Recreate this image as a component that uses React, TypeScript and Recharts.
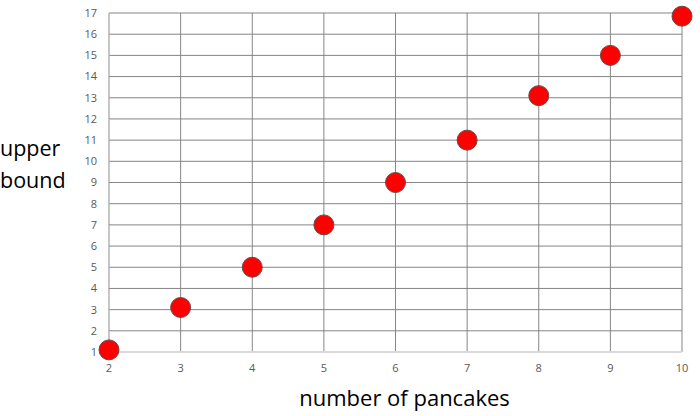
import React from "react";
import { ScatterChart, Scatter, XAxis, YAxis, CartesianGrid, Label } from "recharts";

const pancakes = [2, 3, 4, 5, 6, 7, 8, 9, 10];
const upperBound = [1.1, 3.1, 5, 7, 9, 11, 13.1, 15, 16.85];
const xTicks = [2, 3, 4, 5, 6, 7, 8, 9, 10];
const yTicks = [1, 2, 3, 4, 5, 6, 7, 8, 9, 10, 11, 12, 13, 14, 15, 16, 17];

const points = pancakes.map((n, i) => ({ n, bound: upperBound[i] }));

const font = "'Open Sans', sans-serif";
const tickStyle = { fill: "#595959", fontSize: 11, fontFamily: font };

// red dot with a thin dark rim
const Dot = (props: any) => (
  <circle cx={props.cx} cy={props.cy} r={10} fill="#ff0000" stroke="#6b4a4a" strokeWidth={1} />
);

const YLabel = (props: any) => {
  const { viewBox } = props;
  const cy = viewBox.y + viewBox.height / 2;
  return (
    <text fontFamily={font} fontSize={21.5} fill="#000">
      <tspan x={0} y={cy - 27}>upper</tspan>
      <tspan x={0} y={cy + 5}>bound</tspan>
    </text>
  );
};

export default function App() {
  return (
    <div style={{ position: "absolute", left: 0, top: 0 }}>
      <ScatterChart width={700} height={416} margin={{ top: 13, right: 18, bottom: 0, left: 0 }}>
        <CartesianGrid stroke="#858585" strokeWidth={1} />
        <XAxis
          type="number"
          dataKey="n"
          domain={[2, 10]}
          ticks={xTicks}
          tick={tickStyle}
          tickLine={false}
          tickSize={0}
          tickMargin={12}
          axisLine={{ stroke: "#d9d9d9", strokeWidth: 2 }}
          height={64}
        >
          <Label
            value="number of pancakes"
            position="insideBottom"
            offset={10}
            dx={9}
            style={{ fontFamily: font, fontSize: 22, fill: "#000" }}
          />
        </XAxis>
        <YAxis
          type="number"
          dataKey="bound"
          domain={[1, 17]}
          ticks={yTicks}
          interval={0}
          tick={tickStyle}
          tickLine={false}
          tickSize={0}
          tickMargin={12}
          axisLine={{ stroke: "#d0d0d0", strokeDasharray: "1 1" }}
          width={109}
        >
          <Label content={<YLabel />} />
        </YAxis>
        <Scatter data={points} shape={<Dot />} isAnimationActive={false} />
      </ScatterChart>
    </div>
  );
}
